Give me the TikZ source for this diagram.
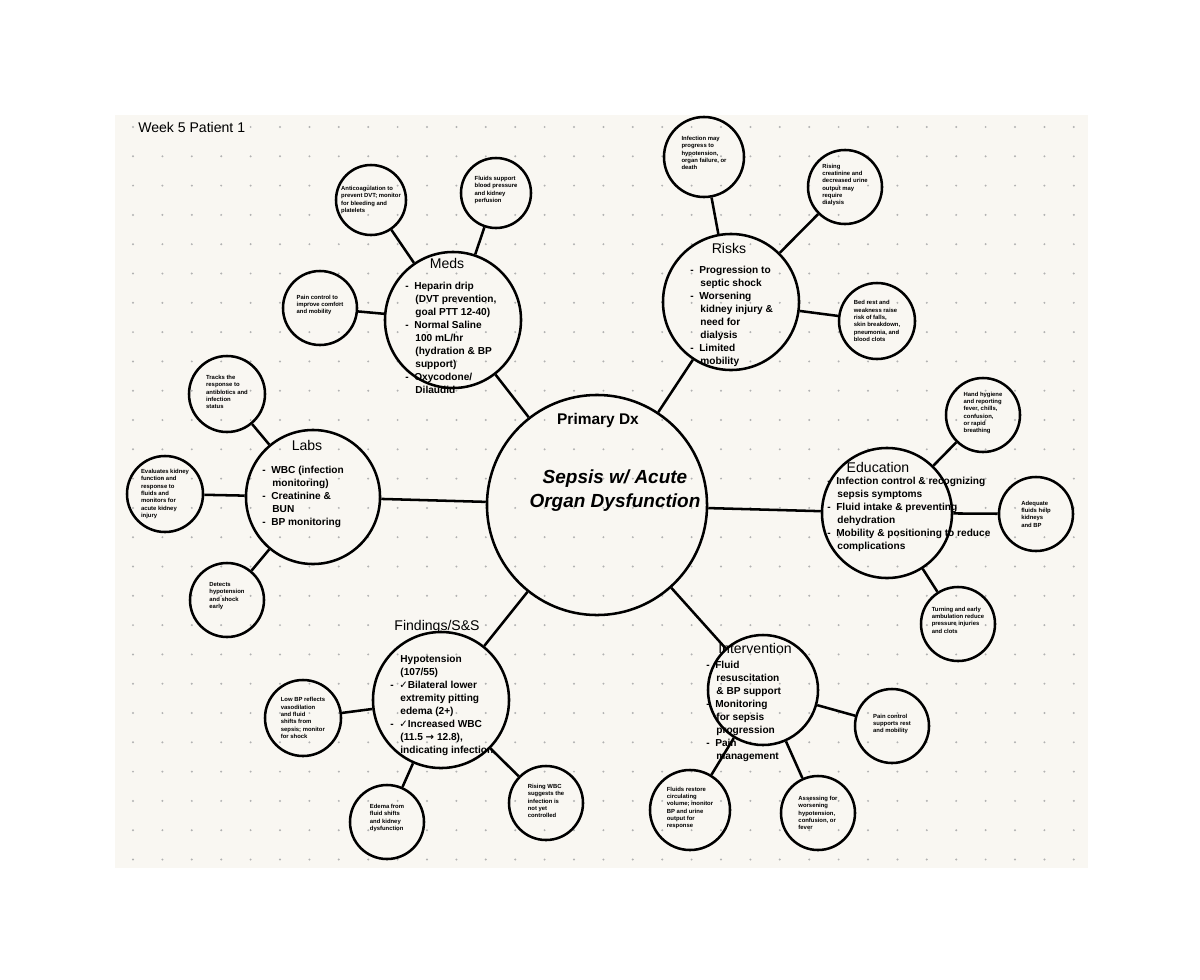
\documentclass[tikz,border=0pt]{standalone}
\usepackage{fontspec}
\setmainfont{Liberation Sans}
\newfontfamily\djv{DejaVu Sans}
\newcommand{\ck}{{\djv ✓}}
\begin{document}
\begin{tikzpicture}[x=0.025cm,y=-0.025cm,
  bub/.style={circle,draw=black,line width=1.8pt,inner sep=0pt},
  con/.style={line width=1.8pt},
  body/.style={font=\fontsize{7.2}{9.2}\selectfont\bfseries,align=left,anchor=north west,inner sep=0pt},
  tiny/.style={font=\fontsize{4.2}{5.2}\selectfont\bfseries,align=left,inner sep=0pt},
  ttl/.style={font=\fontsize{10}{12}\selectfont,inner sep=0pt}]
\useasboundingbox (0,0) rectangle (1200,979);
\fill[white] (0,0) rectangle (1200,979);
\fill[fill={rgb,255:red,249;green,247;blue,242}] (115,115) rectangle (1088,868);
\foreach \i in {0,...,32} \foreach \j in {0,...,25}
  \fill[gray!60] (133+29.4*\i,127+29.3*\j) circle (1.1);
\node[anchor=west,ttl] (wk) at (138,127) {Week 5 Patient 1};
% main circles
\node[bub,minimum size=5.5cm] (mainc) at (597,505) {};
\node[bub,minimum size=3.4cm] (meds) at (453,320) {};
\node[bub,minimum size=3.4cm] (risks) at (731,302) {};
\node[bub,minimum size=3.35cm] (labs) at (313,497) {};
\node[bub,minimum size=3.25cm] (edu) at (887,513) {};
\node[bub,minimum size=3.4cm] (find) at (441,700) {};
\node[bub,minimum size=2.75cm] (intv) at (763,690) {};
% small circles
\node[bub,minimum size=1.75cm] (m1) at (371,200) {};
\node[bub,minimum size=1.75cm] (m2) at (496,193) {};
\node[bub,minimum size=1.85cm] (m3) at (320,308) {};
\node[bub,minimum size=2.0cm] (r1) at (704,157) {};
\node[bub,minimum size=1.85cm] (r2) at (845,187) {};
\node[bub,minimum size=1.9cm] (r3) at (877,321) {};
\node[bub,minimum size=1.9cm] (l1) at (227,394) {};
\node[bub,minimum size=1.9cm] (l2) at (165,494) {};
\node[bub,minimum size=1.85cm] (l3) at (227,600) {};
\node[bub,minimum size=1.85cm] (e1) at (983,415) {};
\node[bub,minimum size=1.85cm] (e2) at (1036,514) {};
\node[bub,minimum size=1.85cm] (e3) at (958,624) {};
\node[bub,minimum size=1.9cm] (f1) at (303,718) {};
\node[bub,minimum size=1.85cm] (f2) at (387,822) {};
\node[bub,minimum size=1.85cm] (f3) at (546,803) {};
\node[bub,minimum size=2.0cm] (i1) at (690,810) {};
\node[bub,minimum size=1.85cm] (i2) at (818,813) {};
\node[bub,minimum size=1.85cm] (i3) at (892,726) {};
% connectors
\foreach \a in {meds,risks,labs,edu,find,intv} \draw[con] (mainc) -- (\a);
\foreach \a in {m1,m2,m3} \draw[con] (meds) -- (\a);
\foreach \a in {r1,r2,r3} \draw[con] (risks) -- (\a);
\foreach \a in {l1,l2,l3} \draw[con] (labs) -- (\a);
\foreach \a in {e1,e2,e3} \draw[con] (edu) -- (\a);
\foreach \a in {f1,f2,f3} \draw[con] (find) -- (\a);
\foreach \a in {i1,i2,i3} \draw[con] (intv) -- (\a);
% main text
\node[ttl,font=\fontsize{11}{13}\selectfont\bfseries] (pdx) at (598,420) {Primary Dx};
\node[inner sep=0pt,align=center,font=\fontsize{13.5}{17}\selectfont\bfseries\itshape] (sep) at (615,491) {Sepsis w/ Acute\\Organ Dysfunction};
% titles
\node[ttl] (tm) at (447,263) {Meds};
\node[ttl] (tr) at (729,248) {Risks};
\node[ttl] (tl) at (307,445) {Labs};
\node[ttl] (te) at (878,467) {Education};
\node[ttl] (tf) at (437,627) {Findings/S\&S};
\node[ttl] (ti) at (755,648) {Intervention};
% bodies
\node[body] (bm) at (405,282) {-\ \ Heparin drip\\\hspace*{1em}(DVT prevention,\\\hspace*{1em}goal PTT 12-40)\\-\ \ Normal Saline\\\hspace*{1em}100 mL/hr\\\hspace*{1em}(hydration \& BP\\\hspace*{1em}support)\\-\ \ Oxycodone/\\\hspace*{1em}Dilaudid};
\node[body] (br) at (690,266) {-\ \ Progression to\\\hspace*{1em}septic shock\\-\ \ Worsening\\\hspace*{1em}kidney injury \&\\\hspace*{1em}need for\\\hspace*{1em}dialysis\\-\ \ Limited\\\hspace*{1em}mobility};
\node[body] (bl) at (262,466) {-\ \ WBC (infection\\\hspace*{1em}monitoring)\\-\ \ Creatinine \&\\\hspace*{1em}BUN\\-\ \ BP monitoring};
\node[body] (be) at (827,477) {-\ \ Infection control \& recognizing\\\hspace*{1em}sepsis symptoms\\-\ \ Fluid intake \& preventing\\\hspace*{1em}dehydration\\-\ \ Mobility \& positioning to reduce\\\hspace*{1em}complications};
\node[body] (bf) at (390,655) {\hspace*{1em}Hypotension\\\hspace*{1em}(107/55)\\-\ \ \ck Bilateral lower\\\hspace*{1em}extremity pitting\\\hspace*{1em}edema (2+)\\-\ \ \ck Increased WBC\\\hspace*{1em}(11.5 {\djv →} 12.8),\\\hspace*{1em}indicating infection};
\node[body] (bi) at (706,661) {-\ \ Fluid\\\hspace*{1em}resuscitation\\\hspace*{1em}\& BP support\\-\ \ Monitoring\\\hspace*{1em}for sepsis\\\hspace*{1em}progression\\-\ \ Pain\\\hspace*{1em}management};
% small texts
\node[tiny] (tm1) at (371,200) {Anticoagulation to\\prevent DVT; monitor\\for bleeding and\\platelets};
\node[tiny] (tm2) at (496,190) {Fluids support\\blood pressure\\and kidney\\perfusion};
\node[tiny] (tm3) at (320,305) {Pain control to\\improve comfort\\and mobility};
\node[tiny] (tr1) at (704,153) {Infection may\\progress to\\hypotension,\\organ failure, or\\death};
\node[tiny] (tr2) at (845,185) {Rising\\creatinine and\\decreased urine\\output may\\require\\dialysis};
\node[tiny] (tr3) at (877,321) {Bed rest and\\weakness raise\\risk of falls,\\skin breakdown,\\pneumonia, and\\blood clots};
\node[tiny] (tl1) at (227,392) {Tracks the\\response to\\antibiotics and\\infection\\status};
\node[tiny] (tl2) at (165,494) {Evaluates kidney\\function and\\response to\\fluids and\\monitors for\\acute kidney\\injury};
\node[tiny] (tl3) at (227,596) {Detects\\hypotension\\and shock\\early};
\node[tiny] (te1) at (983,413) {Hand hygiene\\and reporting\\fever, chills,\\confusion,\\or rapid\\breathing};
\node[tiny] (te2) at (1036,514) {Adequate\\fluids help\\kidneys\\and BP};
\node[tiny] (te3) at (958,620) {Turning and early\\ambulation reduce\\pressure injuries\\and clots};
\node[tiny] (tf1) at (303,718) {Low BP reflects\\vasodilation\\and fluid\\shifts from\\sepsis; monitor\\for shock};
\node[tiny] (tf2) at (387,818) {Edema from\\fluid shifts\\and kidney\\dysfunction};
\node[tiny] (tf3) at (546,801) {Rising WBC\\suggests the\\infection is\\not yet\\controlled};
\node[tiny] (ti1) at (690,808) {Fluids restore\\circulating\\volume; monitor\\BP and urine\\output for\\response};
\node[tiny] (ti2) at (818,813) {Assessing for\\worsening\\hypotension,\\confusion, or\\fever};
\node[tiny] (ti3) at (892,724) {Pain control\\supports rest\\and mobility};
\end{tikzpicture}
\end{document}
